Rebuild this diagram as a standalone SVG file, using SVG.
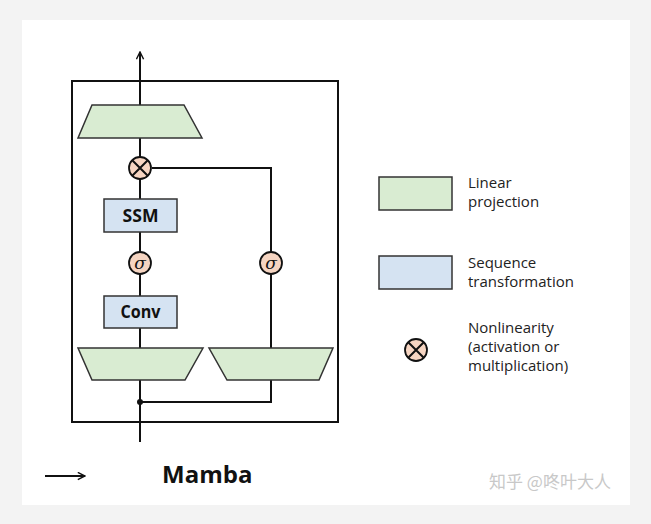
<svg xmlns="http://www.w3.org/2000/svg" width="651" height="524" viewBox="0 0 651 524">
<defs>
<style>
.ln{fill:none;stroke:#111;stroke-width:2}
.lin{fill:#d9ecd2;stroke:#333;stroke-width:1.5}
.seq{fill:#d5e3f2;stroke:#333;stroke-width:1.5}
.nl{fill:#f6d5c2;stroke:#111;stroke-width:1.8}
.t{font-family:"Open Sans","Noto Sans",sans-serif;font-size:15px;fill:#222}
.b{font-family:"Open Sans","Noto Sans",sans-serif;font-weight:bold;fill:#111}
.s{font-family:"DejaVu Serif",serif;font-style:italic;font-size:17px;fill:#111}
</style>
<marker id="ah" viewBox="0 0 10 10" refX="9" refY="5" markerWidth="9" markerHeight="9" orient="auto" markerUnits="userSpaceOnUse"><path d="M1,1 L9,5 L1,9" fill="none" stroke="#111" stroke-width="1.6"/></marker>
</defs>
<rect width="651" height="524" fill="#f3f3f3"/>
<rect x="22" y="20" width="608" height="485" fill="#fff"/>
<g id="connectors">
<rect x="72" y="81" width="266" height="341" class="ln" stroke-width="2.5"/>
<path class="ln" d="M140,442 V52" marker-end="url(#ah)"/>
<path class="ln" d="M152,168 H271 V348"/>
<path class="ln" d="M140,402 H271 V380"/>
<circle cx="140" cy="402" r="3" fill="#111"/>
<path class="ln" d="M45,476 H85" marker-end="url(#ah)"/>
</g>
<g id="out-proj"><polygon class="lin" points="92,105 184,105 202,138 78,138"/></g>
<g id="mult"><circle class="nl" cx="140" cy="168" r="11"/><path class="ln" stroke-width="1.6" d="M132.5,160.5 L147.5,175.5 M147.5,160.5 L132.5,175.5"/></g>
<g id="ssm"><rect class="seq" x="104" y="199" width="73" height="33"/><text class="b" x="140.5" y="222" font-size="17" text-anchor="middle" textLength="36" lengthAdjust="spacingAndGlyphs">SSM</text></g>
<g id="sig1"><circle class="nl" cx="140" cy="263" r="11"/><text class="s" x="140" y="269" text-anchor="middle">σ</text></g>
<g id="sig2"><circle class="nl" cx="271" cy="263" r="11"/><text class="s" x="271" y="269" text-anchor="middle">σ</text></g>
<g id="conv"><rect class="seq" x="104" y="296" width="73" height="32"/><text class="b" x="140.5" y="318" font-size="17" text-anchor="middle" textLength="40" lengthAdjust="spacingAndGlyphs">Conv</text></g>
<g id="in-proj1"><polygon class="lin" points="78,348 203,348 185,380 92,380"/></g>
<g id="in-proj2"><polygon class="lin" points="209,348 333,348 319,380 227,380"/></g>
<g id="legend">
<rect class="lin" x="379" y="177" width="73" height="33"/>
<text class="t" x="468" y="188">Linear</text><text class="t" x="468" y="207">projection</text>
<rect class="seq" x="379" y="256" width="73" height="33"/>
<text class="t" x="468" y="268">Sequence</text><text class="t" x="468" y="287">transformation</text>
<circle class="nl" cx="416" cy="350" r="11"/><path class="ln" stroke-width="1.6" d="M408.5,342.5 L423.5,357.5 M423.5,342.5 L408.5,357.5"/>
<text class="t" x="468" y="333">Nonlinearity</text><text class="t" x="468" y="352">(activation or</text><text class="t" x="468" y="371">multiplication)</text>
</g>
<text class="b" x="162" y="483" font-size="24">Mamba</text>
<text x="489" y="488" font-family="Noto Sans CJK SC,sans-serif" font-size="17" fill="#c8c8c8">知乎 @咚叶大人</text>
</svg>
